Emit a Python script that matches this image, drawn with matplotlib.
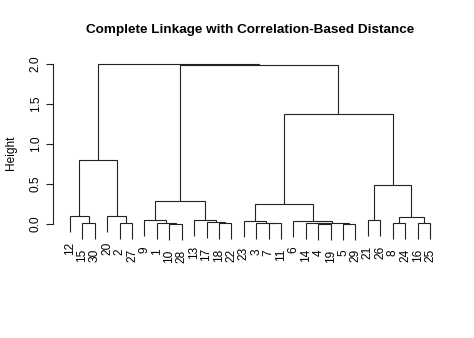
import matplotlib
matplotlib.use("Agg")
import matplotlib.pyplot as plt

plt.rcParams['font.family'] = ['Liberation Sans', 'DejaVu Sans']

# leaf labels, left to right
leaf_order = [12, 15, 30, 20, 2, 27, 9, 1, 10, 28, 13, 17, 18, 22,
              23, 3, 7, 11, 6, 14, 4, 19, 5, 29, 21, 26, 8, 24, 16, 25]

# hclust-style merges: negative = observation, positive = earlier merge (1-based)
merge_left = [-10, -4, -5, -7, -14, -18, -8, -16, -1, -3, 5, -15, -2, -17, -9,
              -23, -6, -13, -21, 7, -12, -20, 16, 15, 19, 21, 23, 24, 26]
merge_right = [-28, -19, -29, -11, 2, -22, -24, -25, 1, 4, 3, -30, -27, 6, 9,
               10, 11, 14, -26, 8, 12, 13, 17, 18, 20, 22, 25, 27, 28]
merge_height = [0.003, 0.004, 0.006, 0.008, 0.009, 0.010, 0.010, 0.010, 0.012,
                0.017, 0.018, 0.017, 0.017, 0.020, 0.045, 0.040, 0.040, 0.050,
                0.050, 0.085, 0.100, 0.105, 0.245, 0.290, 0.484, 0.800, 1.375,
                1.985, 2.000]

hang = 0.1 * (max(merge_height) - min(merge_height))

leaf_x = {lab: i for i, lab in enumerate(leaf_order)}
node_x = {}

fig = plt.figure(figsize=(4.74, 3.38), dpi=100)
ax = fig.add_axes([0.1118, 0.2751, 0.8312, 0.5473])
ax.set_xlim(-1.37, 30.37)
ax.set_ylim(-0.2625, 2.05)

lc = '#222222'
lw = 0.8


def child_pos(c, parent_h):
    if c < 0:
        return leaf_x[-c], parent_h - hang, True
    return node_x[c], merge_height[c - 1], False


for k in range(len(merge_height)):
    h = merge_height[k]
    xl, yl, leaf_l = child_pos(merge_left[k], h)
    xr, yr, leaf_r = child_pos(merge_right[k], h)
    node_x[k + 1] = (xl + xr) / 2
    ax.plot([xl, xl, xr, xr], [yl, h, h, yr], color=lc, lw=lw,
            solid_joinstyle='miter', solid_capstyle='butt')
    for c, x, y, is_leaf in [(merge_left[k], xl, yl, leaf_l),
                             (merge_right[k], xr, yr, leaf_r)]:
        if is_leaf:
            ax.annotate(str(-c), (x, y), xytext=(0, -7), textcoords='offset points',
                        rotation=90, ha='center', va='top', fontsize=8.6)

for s in ['top', 'right', 'bottom']:
    ax.spines[s].set_visible(False)
ax.spines['left'].set_bounds(0, 2.0)
ax.spines['left'].set_linewidth(lw)
ax.spines['left'].set_color(lc)
ax.set_xticks([])
ax.set_yticks([0, 0.5, 1.0, 1.5, 2.0])
ax.set_yticklabels(['0.0', '0.5', '1.0', '1.5', '2.0'], rotation=90, va='center')
ax.tick_params(axis='y', length=5, width=lw, color=lc, labelsize=8.6, pad=3)
ax.set_ylabel('Height', fontsize=8.6, labelpad=9)

fig.text(0.527, 0.91, 'Complete Linkage with Correlation-Based Distance',
         ha='center', va='center', fontsize=9.7, fontweight='bold')

fig.savefig('out.png', dpi=100)
